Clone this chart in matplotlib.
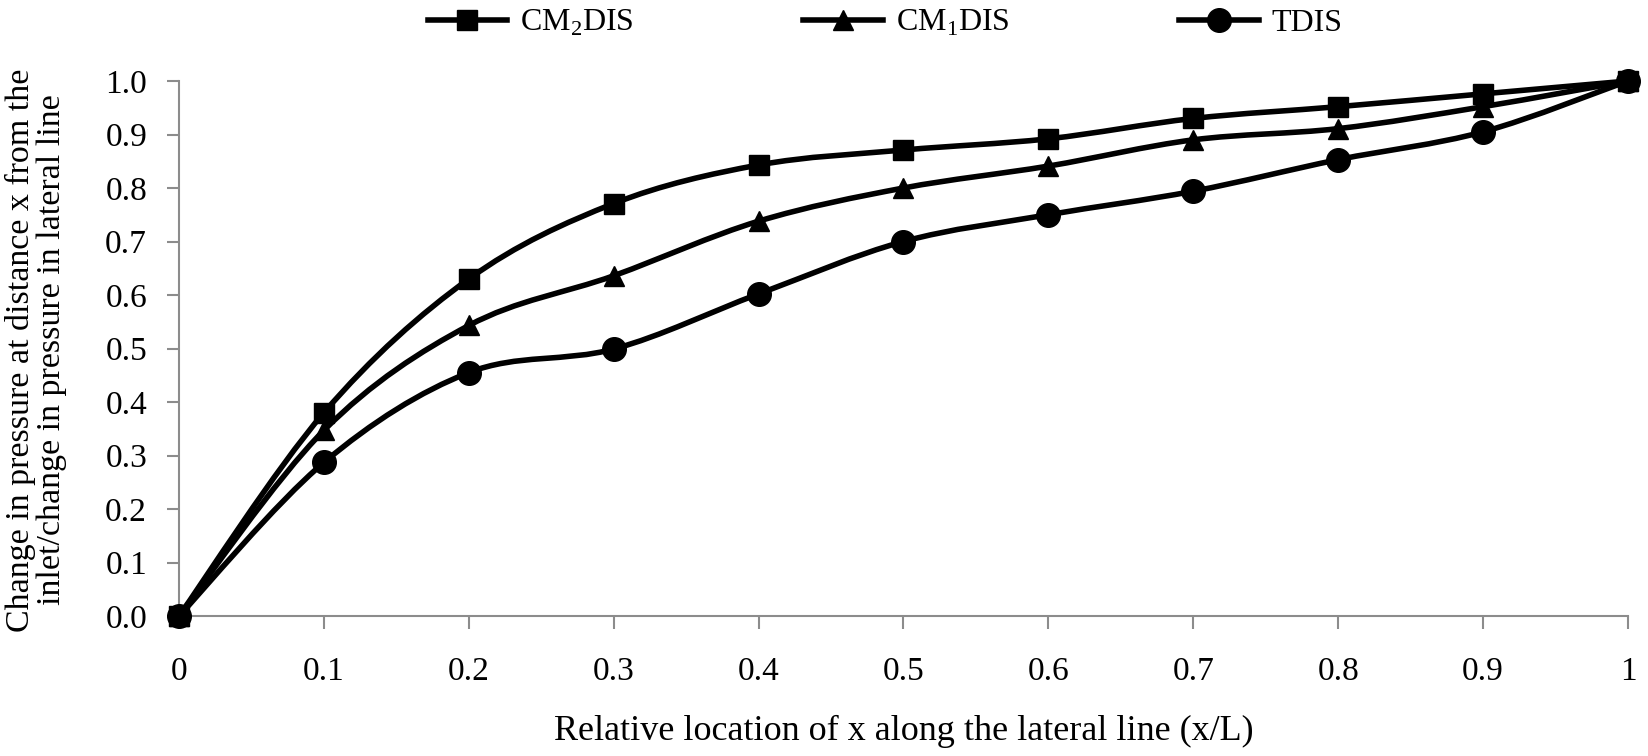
import matplotlib
matplotlib.use("Agg")
import matplotlib.pyplot as plt
from matplotlib.path import Path
from matplotlib.patches import PathPatch
from matplotlib.lines import Line2D
import numpy as np

plt.rcParams['font.family'] = ['Liberation Serif', 'DejaVu Serif']
plt.rcParams['mathtext.fontset'] = 'custom'
plt.rcParams['mathtext.rm'] = 'Liberation Serif'

x_vals = [0.0, 0.1, 0.2, 0.3, 0.4, 0.5, 0.6, 0.7, 0.8, 0.9, 1.0]
cm2dis = [0.0, 0.38, 0.63, 0.771, 0.843, 0.871, 0.892, 0.930, 0.952, 0.976, 1.0]
cm1dis = [0.0, 0.347, 0.543, 0.636, 0.738, 0.800, 0.841, 0.890, 0.911, 0.952, 1.0]
tdis = [0.0, 0.287, 0.455, 0.499, 0.602, 0.700, 0.750, 0.794, 0.853, 0.905, 1.0]

series_names = [r'CM$_\mathrm{2}$DIS', r'CM$_\mathrm{1}$DIS', 'TDIS']
x_tick_labels = ['0', '0.1', '0.2', '0.3', '0.4', '0.5', '0.6', '0.7', '0.8', '0.9', '1']
y_ticks = [0.0, 0.1, 0.2, 0.3, 0.4, 0.5, 0.6, 0.7, 0.8, 0.9, 1.0]

W, H = 1649, 756
fig = plt.figure(figsize=(W / 100, H / 100), dpi=100)
ax = fig.add_axes([179 / W, 1 - 616 / H, (1628 - 179) / W, (616 - 81) / H])


def smooth_path(xs, ys):
    p = np.column_stack([xs, ys]).astype(float)
    n = len(p)
    verts = [p[0]]
    codes = [Path.MOVETO]
    for i in range(n - 1):
        p0 = p[i - 1] if i > 0 else p[i]
        p1 = p[i]
        p2 = p[i + 1]
        p3 = p[i + 2] if i + 2 < n else p[i + 1]
        c1 = p1 + (p2 - p0) / 6.0
        c2 = p2 - (p3 - p1) / 6.0
        verts += [c1, c2, p2]
        codes += [Path.CURVE4] * 3
    return Path(verts, codes)


lw = 4.0
styles = [('s', 15), ('^', 15), ('o', 17)]
handles = []
for ys, name, (mk, ms) in zip([cm2dis, cm1dis, tdis], series_names, styles):
    patch = PathPatch(smooth_path(x_vals, ys), facecolor='none', edgecolor='black',
                      lw=lw, clip_on=False, zorder=3)
    ax.add_patch(patch)
    ax.plot(x_vals, ys, linestyle='none', marker=mk, markersize=ms, color='black',
            clip_on=False, zorder=4)
    handles.append(Line2D([], [], color='black', lw=lw, marker=mk, markersize=ms, label=name))

ax.set_xlim(0, 1)
ax.set_ylim(0, 1)
ax.set_xticks(x_vals)
ax.set_xticklabels(x_tick_labels)
ax.set_yticks(y_ticks)
ax.set_yticklabels([f'{v:.1f}' for v in y_ticks])

for s in ['top', 'right']:
    ax.spines[s].set_visible(False)
for s in ['left', 'bottom']:
    ax.spines[s].set_color('#8c8c8c')
    ax.spines[s].set_linewidth(1.5)

ax.tick_params(axis='both', direction='out', colors='#8c8c8c', width=1.5, labelsize=24,
               labelcolor='black')
ax.tick_params(axis='y', length=9, pad=14)
ax.tick_params(axis='x', length=9.5, pad=20)

fig.text(904 / W, 1 - 731 / H, 'Relative location of x along the lateral line (x/L)',
         ha='center', va='center', fontsize=26)
fig.text(36 / W, 1 - 350 / H,
         'Change in pressure at distance x from the\ninlet/change in pressure in lateral line',
         ha='center', va='center', rotation=90, fontsize=24.5, linespacing=1.02)

fig.legend(handles=handles, loc='center', bbox_to_anchor=(885 / W, 1 - 23 / H), ncol=3,
           frameon=False, fontsize=23, handlelength=2.5, handletextpad=0.4,
           columnspacing=5.3, borderaxespad=0)

fig.savefig('out.png', dpi=100)
